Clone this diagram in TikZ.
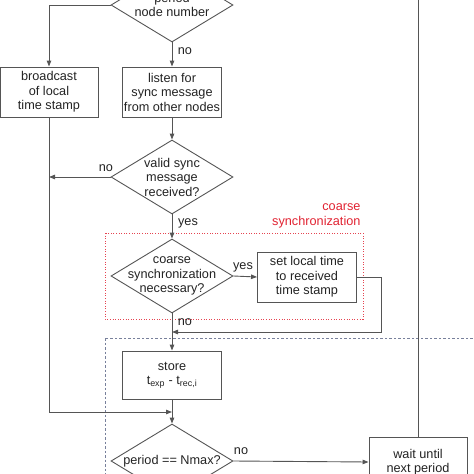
\documentclass[tikz,border=0pt]{standalone}
\usepackage{fontspec}
\setmainfont{Liberation Sans}
\usetikzlibrary{shapes.geometric,arrows.meta}

\definecolor{linegray}{RGB}{85,85,85}
\definecolor{txtgray}{RGB}{35,35,35}
\definecolor{synred}{RGB}{225,35,50}
\definecolor{boxblue}{RGB}{120,128,155}

\tikzset{
  box/.style={draw=linegray, line width=0.9pt, rectangle, align=center, minimum width=99pt, minimum height=50pt, inner sep=0pt},
  dia/.style={draw=linegray, line width=0.9pt, diamond, minimum width=122pt, minimum height=74pt, inner sep=0pt},
  flow/.style={draw=linegray, line width=0.9pt, -{Triangle[length=6pt,width=4.5pt]}},
}

\begin{document}
\begin{tikzpicture}[x=1pt, y=-1pt, font=\fontsize{12.7}{14.5}\selectfont, text=txtgray]
    \useasboundingbox (0,0) rectangle (474,474);
    \clip (0,0) rectangle (474,474);
    % Frames round the two parts
    \draw[synred!85, dash pattern=on 1pt off 1.6pt, line width=0.8pt] (105,233) rectangle (363,319);
    \draw[boxblue, dash pattern=on 2.5pt off 2pt, line width=0.8pt] (105,338) rectangle (490,490);
    \node[text=synred, align=right, anchor=east] (coarsetxt) at (364,216) {coarse\\synchronization};
    % Decisions and steps
    \node[dia, label={[align=center]center:{period\\node number}}] (turn) at (172,5) {};
    \node[box, minimum width=98pt] (bcast) at (49,92) {broadcast\\of local\\time stamp};
    \node[box] (listen) at (172,92) {listen for\\sync message\\from other nodes};
    \node[dia, label={[align=center]center:{valid sync\\message\\received?}}] (valid) at (172,177) {};
    \node[dia, label={[align=center]center:{coarse\\synchronization\\necessary?}}] (needed) at (172,276) {};
    \node[box] (setlocal) at (307,277) {set local time\\to received\\time stamp};
    \node[box, minimum height=48pt] (store) at (172,375) {store\\t\textsubscript{exp} - t\textsubscript{rec,i}};
    \node[dia, label={center:period == Nmax?}] (nmax) at (172,461) {};
    \node[box, minimum width=98pt] (wait) at (418,462) {wait until\\next period};
    % Merge points and loop end
    \coordinate (join1) at (172,332);
    \coordinate (join2) at (172,412);
    \coordinate (looptop) at (418,-40);
    % Connectors
    \draw[flow] (turn.west) -| (bcast.north);
    \draw[flow] (turn.south) -- (listen.north);
    \draw[flow] (listen.south) -- (valid.north);
    \draw[flow] (valid.west) -- (valid.west -| bcast.south);
    \draw[flow] (valid.south) -- (needed.north);
    \draw[flow] (needed.east) -- (setlocal.west);
    \draw[flow] (needed.south) -- (store.north);
    \draw[flow] (setlocal.east) -- ++(24,0) |- (join1);
    \draw[flow] (bcast.south) |- (join2);
    \draw[flow] (store.south) -- (nmax.north);
    \draw[flow] (nmax.east) -- (wait.west);
    \draw[linegray, line width=0.9pt] (wait.north) -- (looptop);
    % Branch labels
    \node (yes1) at (102,-5) {yes};
    \node (no1) at (185,51) {no};
    \node (no2) at (106,168) {no};
    \node (yes2) at (188,223) {yes};
    \node (yes3) at (243,267) {yes};
    \node (no3) at (185,322) {no};
    \node (no4) at (241,451) {no};
\end{tikzpicture}
\end{document}
